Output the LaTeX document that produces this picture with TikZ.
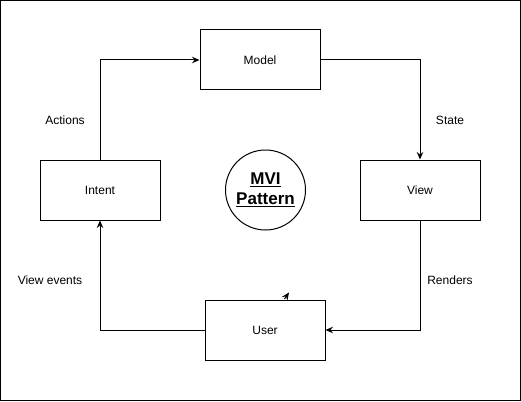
\documentclass[tikz,border=0pt]{standalone}
\usepackage{fontspec}
\setmainfont{Liberation Sans}
\usetikzlibrary{arrows.meta}
\tikzset{
  block/.style={draw,minimum width=120pt,minimum height=60pt,inner sep=0pt,font=\fontsize{12}{14}\selectfont},
  flow/.style={draw,-{Stealth[length=7.5pt,width=6.5pt,inset=2.5pt]}},
  tag/.style={font=\fontsize{12}{14}\selectfont}
}
\begin{document}
\begin{tikzpicture}[x=1pt,y=-1pt,line width=1pt]
    %%%% Frame %%%%%%%%%%%%%%%%%%%%%%%%%%%%%%%%%%%%%%%%%%%%%%%%%%%%%%%%%%%
    \useasboundingbox (0,0) rectangle (521,401);
    \draw (0.5,0.5) rectangle (520.5,400.5);

    %%%% Blocks %%%%%%%%%%%%%%%%%%%%%%%%%%%%%%%%%%%%%%%%%%%%%%%%%%%%%%%%%%
    \node[block] (model)  at (260,60)  {Model};
    \node[block] (intent) at (100,190) {Intent};
    \node[block] (view)   at (420,190) {View};
    \node[block] (user)   at (265,330) {User};

    \node[draw,circle,minimum size=80pt,inner sep=0pt,align=center,
          font=\fontsize{17}{20}\selectfont\bfseries] (mvi) at (265.5,190)
         {\underline{MVI}\\\underline{Pattern}};

    %%%% Connectors %%%%%%%%%%%%%%%%%%%%%%%%%%%%%%%%%%%%%%%%%%%%%%%%%%%%%%
    \draw[flow] (intent.north) |- (model.west);
    \draw[flow] (model.east) -| (view.north);
    \draw[flow] (view.south) |- (user.east);
    \draw[flow] (user.west) -| (intent.south);

    \coordinate (stray) at (284.5,299);
    \draw[flow] (stray) -- ++(4.5,-6.5);

    %%%% Labels %%%%%%%%%%%%%%%%%%%%%%%%%%%%%%%%%%%%%%%%%%%%%%%%%%%%%%%%%%
    \node[tag] (actions) at (65,120)  {Actions};
    \node[tag] (state)   at (450,120) {State};
    \node[tag] (events)  at (50,280)  {View events};
    \node[tag] (renders) at (450,280) {Renders};
\end{tikzpicture}
\end{document}
